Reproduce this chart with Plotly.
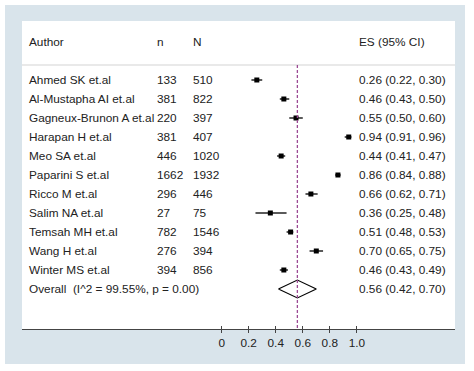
import plotly.graph_objects as go

authors = ["Ahmed SK et.al", "Al-Mustapha AI et.al", "Gagneux-Brunon A et.al", "Harapan H et.al",
           "Meo SA et.al", "Paparini S et.al", "Ricco M et.al", "Salim NA et.al",
           "Temsah MH et.al", "Wang H et.al", "Winter MS et.al"]
n_events = [133, 381, 220, 381, 446, 1662, 296, 27, 782, 276, 394]
n_total = [510, 822, 397, 407, 1020, 1932, 446, 75, 1546, 394, 856]
es = [0.26, 0.46, 0.55, 0.94, 0.44, 0.86, 0.66, 0.36, 0.51, 0.70, 0.46]
ci_lo = [0.22, 0.43, 0.50, 0.91, 0.41, 0.84, 0.62, 0.25, 0.48, 0.65, 0.43]
ci_hi = [0.30, 0.50, 0.60, 0.96, 0.47, 0.88, 0.71, 0.48, 0.53, 0.75, 0.49]
overall_label = "Overall\u00a0 (I^2 = 99.55%, p = 0.00)"
overall_es, overall_lo, overall_hi = 0.56, 0.42, 0.70
headers = ["Author", "n", "N", "ES (95% CI)"]
tick_vals = [0, 0.2, 0.4, 0.6, 0.8, 1.0]
tick_text = ["0", "0.2", "0.4", "0.6", "0.8", "1.0"]

FONT = "Liberation Sans, Arial, sans-serif"
FS = 11.8
TXT = "#222222"
col_x = [-1.440, -0.494, -0.226, 1.003]

rows = list(range(1, len(authors) + 1))
overall_row = len(authors) + 1

fig = go.Figure()

# study estimates with CIs
fig.add_trace(go.Scatter(
    x=es, y=rows, mode="markers",
    marker=dict(symbol="square", size=5, color="black"),
    error_x=dict(type="data", symmetric=False,
                 array=[h - e for h, e in zip(ci_hi, es)],
                 arrayminus=[e - l for e, l in zip(es, ci_lo)],
                 color="black", thickness=1.3, width=0),
    hoverinfo="skip", showlegend=False))

# overall diamond
dh = 0.47
fig.add_trace(go.Scatter(
    x=[overall_lo, overall_es, overall_hi, overall_es, overall_lo],
    y=[overall_row, overall_row - dh, overall_row, overall_row + dh, overall_row],
    mode="lines", line=dict(color="black", width=1.2),
    hoverinfo="skip", showlegend=False))

# invisible trace for overlaid axis (upward ticks)
fig.add_trace(go.Scatter(x=[0], y=[0], xaxis="x2", mode="markers",
                         marker=dict(opacity=0), hoverinfo="skip", showlegend=False))

ann = []
def add_text(x, y, t):
    ann.append(dict(x=x, y=y, xref="x", yref="y", text=t, showarrow=False,
                    xanchor="left", yanchor="middle",
                    font=dict(family=FONT, size=FS, color=TXT)))

for cx, h in zip(col_x, headers):
    add_text(cx, -1.0, h)
for r, a, ne, nt, e, l, h in zip(rows, authors, n_events, n_total, es, ci_lo, ci_hi):
    add_text(col_x[0], r, a)
    add_text(col_x[1], r, str(ne))
    add_text(col_x[2], r, str(nt))
    add_text(col_x[3], r, f"{e:.2f} ({l:.2f}, {h:.2f})")
add_text(col_x[0], overall_row, overall_label)
add_text(col_x[3], overall_row, f"{overall_es:.2f} ({overall_lo:.2f}, {overall_hi:.2f})")

W, H = 474, 371
ml, mr, mt, mb = 22, 474 - 455, 21, 371 - 329
pw, ph = W - ml - mr, H - mt - mb

shapes = [
    # blue frame
    dict(type="rect", xref="paper", yref="paper",
         x0=(5 - ml) / pw, x1=(465 - ml) / pw,
         y0=-(364 - (H - mb)) / ph, y1=1 + (mt - 5) / ph,
         fillcolor="#d9e4eb", line=dict(width=0), layer="below"),
    # white plot panel
    dict(type="rect", xref="paper", yref="paper", x0=0, x1=1, y0=0, y1=1,
         fillcolor="white", line=dict(width=0), layer="below"),
    # header separator
    dict(type="line", xref="paper", yref="y", x0=0, x1=1, y0=0.211, y1=0.211,
         line=dict(color="#d4d4d4", width=1.2)),
    # overall effect reference line
    dict(type="line", xref="x", yref="y", x0=overall_es, x1=overall_es, y0=0.211, y1=14.1,
         line=dict(color="#9c4a94", width=1.3, dash="3px,2px")),
]

fig.update_layout(
    width=W, height=H,
    margin=dict(l=ml, r=mr, t=mt, b=mb, pad=0),
    paper_bgcolor="white", plot_bgcolor="white",
    font=dict(family=FONT, size=FS, color=TXT),
    xaxis=dict(range=[-1.477, 1.726], showgrid=False, zeroline=False,
               showline=True, linecolor="#444444", linewidth=1,
               ticks="outside", ticklen=3, tickwidth=1, tickcolor="#444444",
               tickvals=tick_vals, ticktext=tick_text,
               tickfont=dict(family=FONT, size=FS, color=TXT)),
    xaxis2=dict(range=[-1.477, 1.726], overlaying="x", anchor="y", side="bottom",
                showgrid=False, zeroline=False, showline=False,
                ticks="inside", ticklen=3, tickwidth=1, tickcolor="#444444",
                tickvals=tick_vals, showticklabels=False),
    yaxis=dict(range=[14.105, -2.105], showgrid=False, zeroline=False,
               showline=False, showticklabels=False, ticks=""),
    shapes=shapes, annotations=ann,
)

fig.write_html("out.html", config={"displayModeBar": False},
               post_script="document.body.style.margin='0';")
